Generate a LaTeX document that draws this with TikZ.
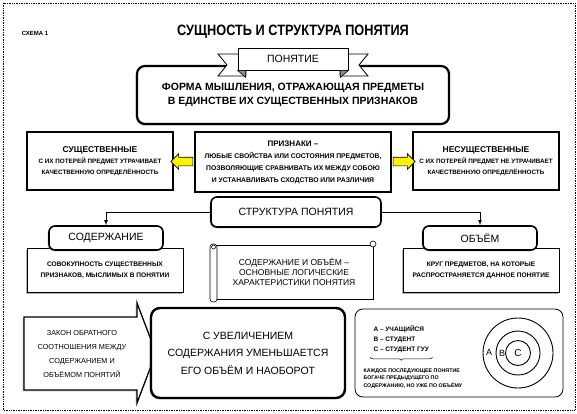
\documentclass[tikz,border=0pt]{standalone}
\usepackage{fontspec}
\setmainfont{Liberation Sans}
\newfontfamily\narrowfont[FakeStretch=0.85]{Liberation Sans}
\usetikzlibrary{
    positioning,
    calc,
    shapes.arrows,
    shadows,
    decorations.pathreplacing
}

\begin{document}
\begin{tikzpicture}[x=1pt, y=-1pt,
    thickbox/.style={draw, line width=1.6pt, rounded corners=6pt, fill=white, align=center,
        drop shadow={shadow xshift=-1.3pt, shadow yshift=-1.3pt, fill=black!45}},
    sqbox/.style={draw, line width=1.3pt, fill=white, align=center},
    thinbox/.style={draw, line width=0.6pt, fill=white, align=center,
        drop shadow={shadow xshift=-1.5pt, shadow yshift=-1.5pt, fill=black!60}},
    yarrow/.style={single arrow, draw, fill=yellow, line width=0.6pt, inner sep=4pt,
        single arrow head extend=3.5pt, minimum height=22pt},
    small/.style={font=\bfseries\fontsize{#1}{11}\selectfont}
  ]
  \useasboundingbox (0,0) rectangle (577,413);
  \draw[densely dotted, line width=0.7pt] (3,3) rectangle (575,410);

  \node[font=\bfseries\fontsize{6}{7}\selectfont] (scheme) at (35,33) {СХЕМА 1};
  \node[font=\narrowfont\bfseries\fontsize{15}{17}\selectfont] (title) at (293,32) {СУЩНОСТЬ И СТРУКТУРА ПОНЯТИЯ};

  % definition and ribbon
  \node[thickbox, line width=2.2pt, rounded corners=8pt, minimum width=312, minimum height=58,
        font=\bfseries\fontsize{10.5}{14}\selectfont] (defn) at (293,95)
        {ФОРМА МЫШЛЕНИЯ, ОТРАЖАЮЩАЯ ПРЕДМЕТЫ\\В ЕДИНСТВЕ ИХ СУЩЕСТВЕННЫХ ПРИЗНАКОВ};
  \coordinate (lt) at (246,54);
  \coordinate (rt) at (340,54);
  \draw[line width=0.8pt, fill=white] (lt) -- ++(-28,0) -- ++(9,11) -- ++(-9,11) -- ++(28,0) -- cycle;
  \draw[line width=0.8pt, fill=white] (rt) -- ++(28,0) -- ++(-9,11) -- ++(9,11) -- ++(-28,0) -- cycle;
  \node[draw, line width=0.8pt, fill=white, minimum width=110, minimum height=22,
        font=\fontsize{10.5}{12}\selectfont] (concept) at (293,59) {ПОНЯТИЕ};
  \draw[line width=0.6pt, fill=black!45] (concept.south west) -- ++(8,7) -- ++(0,-7) -- cycle;
  \draw[line width=0.6pt, fill=black!45] (concept.south east) -- ++(-8,7) -- ++(0,-7) -- cycle;

  % signs
  \node[sqbox, minimum width=146, minimum height=58, small=6.3] (ess) at (100,161)
        {{\fontsize{8.5}{11}\selectfont СУЩЕСТВЕННЫЕ}\\С ИХ ПОТЕРЕЙ ПРЕДМЕТ УТРАЧИВАЕТ\\КАЧЕСТВЕННУЮ ОПРЕДЕЛЁННОСТЬ};
  \node[sqbox, minimum width=196, minimum height=60, font=\bfseries\fontsize{6.8}{12}\selectfont] (signs) at (293,162)
        {{\fontsize{8}{12}\selectfont ПРИЗНАКИ –}\\ЛЮБЫЕ СВОЙСТВА ИЛИ СОСТОЯНИЯ ПРЕДМЕТОВ,\\ПОЗВОЛЯЮЩИЕ СРАВНИВАТЬ ИХ МЕЖДУ СОБОЮ\\И УСТАНАВЛИВАТЬ СХОДСТВО ИЛИ РАЗЛИЧИЯ};
  \node[sqbox, minimum width=146, minimum height=58, small=6.3] (noness) at (486,161)
        {{\fontsize{8.5}{11}\selectfont НЕСУЩЕСТВЕННЫЕ}\\С ИХ ПОТЕРЕЙ ПРЕДМЕТ НЕ УТРАЧИВАЕТ\\КАЧЕСТВЕННУЮ ОПРЕДЕЛЁННОСТЬ};
  \node[yarrow, shape border rotate=180] (toess) at ($(ess.east)!0.5!(signs.west)$) {};
  \node[yarrow] (tononess) at ($(signs.east)!0.5!(noness.west)$) {};

  % structure
  \node[thickbox, minimum width=170, minimum height=30, font=\fontsize{10.5}{12}\selectfont] (struct) at (296,212) {СТРУКТУРА ПОНЯТИЯ};
  \node[thinbox, minimum width=156, minimum height=44, small=6.6, text depth=-6pt] (contbox) at (105,270)
        {СОВОКУПНОСТЬ СУЩЕСТВЕННЫХ\\ПРИЗНАКОВ, МЫСЛИМЫХ В ПОНЯТИИ};
  \node[thinbox, minimum width=156, minimum height=44, small=6.6, text depth=-6pt] (volbox) at (481,270)
        {КРУГ ПРЕДМЕТОВ, НА КОТОРЫЕ\\РАСПРОСТРАНЯЕТСЯ ДАННОЕ ПОНЯТИЕ};
  \node[thickbox, minimum width=114, minimum height=24, font=\fontsize{10.5}{12}\selectfont] (cont) at (106,238) {СОДЕРЖАНИЕ};
  \node[thickbox, minimum width=114, minimum height=24, font=\fontsize{10.5}{12}\selectfont] (vol) at (480,238) {ОБЪЁМ};
  \draw[line width=0.8pt, -latex] (struct.west) -| (cont.north);
  \draw[line width=0.8pt, -latex] (struct.east) -| (vol.north);

  % scroll
  \draw[line width=0.6pt, fill=white] (216,245) rectangle (373,299);
  \draw[line width=0.6pt, fill=white] (373,244) circle (3);
  \draw[line width=0.6pt, fill=white, rounded corners=3pt] (210,244) rectangle (217,302);
  \draw[line width=0.6pt] (213.5,247) circle (2);
  \node[align=center, font=\fontsize{8.5}{10}\selectfont] (scroll) at (294,272)
        {СОДЕРЖАНИЕ И ОБЪЁМ –\\ОСНОВНЫЕ ЛОГИЧЕСКИЕ\\ХАРАКТЕРИСТИКИ ПОНЯТИЯ};

  % law
  \draw[line width=1.3pt, fill=white, drop shadow={shadow xshift=-1.3pt, shadow yshift=-1.3pt, fill=black!45}]
        (24,317) -- (137,317) -- (137,303) -- (156,353) -- (137,403) -- (137,390) -- (24,390) -- cycle;
  \node[align=center, font=\fontsize{7.3}{13.7}\selectfont] (law) at (82,354)
        {ЗАКОН ОБРАТНОГО\\СООТНОШЕНИЯ МЕЖДУ\\СОДЕРЖАНИЕМ И\\ОБЪЁМОМ ПОНЯТИЙ};
  \node[thickbox, line width=2.4pt, rounded corners=9pt, minimum width=194, minimum height=90,
        font=\fontsize{10.5}{17.5}\selectfont] (rule) at (248,353)
        {С УВЕЛИЧЕНИЕМ\\СОДЕРЖАНИЯ УМЕНЬШАЕТСЯ\\ЕГО ОБЪЁМ И НАОБОРОТ};

  % example
  \node[draw, line width=0.8pt, rounded corners=8pt, minimum width=208, minimum height=88] (ex) at (459,353) {};
  \node[anchor=north west, align=left, font=\bfseries\fontsize{6.5}{10}\selectfont] (list) at (370,322)
        {А – УЧАЩИЙСЯ\\В – СТУДЕНТ\\С – СТУДЕНТ ГУУ};
  \draw[line width=0.5pt, decorate, decoration={brace, mirror, amplitude=3pt}] ([yshift=-1pt]list.south west) -- ([yshift=-1pt]list.south east);
  \node[anchor=north west, align=left, font=\bfseries\fontsize{5.3}{7.5}\selectfont] (note) at (360,365)
        {КАЖДОЕ ПОСЛЕДУЮЩЕЕ ПОНЯТИЕ\\БОГАЧЕ ПРЕДЫДУЩЕГО ПО\\СОДЕРЖАНИЮ, НО УЖЕ ПО ОБЪЁМУ};
  \node[circle, draw, line width=0.9pt, minimum size=70] (outer) at (518,353) {};
  \node[circle, draw, line width=0.9pt, minimum size=44] (middle) at (518,353) {};
  \node[circle, draw, line width=0.9pt, minimum size=25, inner sep=0pt, font=\fontsize{10}{12}\selectfont] (inner) at (518,353) {С};
  \node[font=\fontsize{9}{10}\selectfont, inner sep=0pt] (lb) at (502,353) {В};
  \node[font=\fontsize{9}{10}\selectfont, inner sep=0pt] (la) at (489,352) {А};
\end{tikzpicture}
\end{document}
